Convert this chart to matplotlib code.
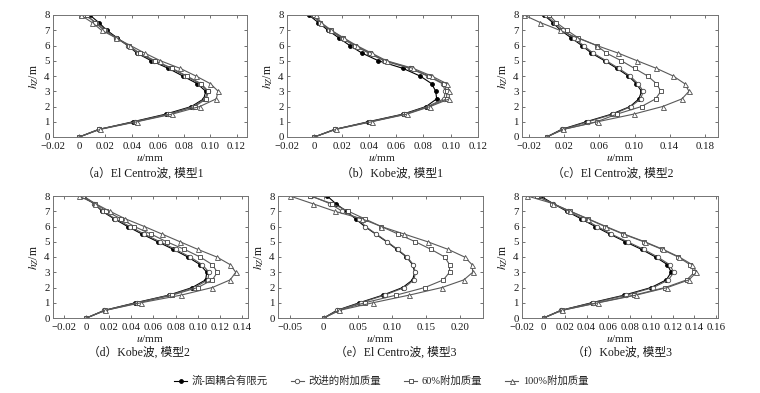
#!/usr/bin/env python3
"""
Displacement profiles u(h_Z) for three models under El Centro / Kobe waves.
Four methods compared per panel, 2x3 grid, one legend at the bottom.
"""

import matplotlib
matplotlib.use("Agg")
import matplotlib.pyplot as plt

plt.rcParams["font.family"] = ["Liberation Serif", "Noto Sans CJK SC"]
plt.rcParams["mathtext.fontset"] = "stix"
plt.rcParams["axes.unicode_minus"] = True

# heights along the wall (m)
HEIGHTS = [0, 0.5, 1, 1.5, 2, 2.5, 3, 3.5, 4, 4.5, 5, 5.5, 6, 6.5, 7, 7.5, 8]

SERIES_NAMES = ["流-固耦合有限元", "改进的附加质量", "60%附加质量", "100%附加质量"]

# (a) El Centro, model 1
a_fem = [0, 0.015, 0.041, 0.066, 0.0856, 0.095, 0.0965, 0.090, 0.079, 0.068, 0.055, 0.044, 0.037, 0.029, 0.021, 0.015, 0.008]
a_improved = [0, 0.015, 0.0425, 0.068, 0.087, 0.096, 0.098, 0.092, 0.081, 0.070, 0.057, 0.045, 0.037, 0.028, 0.020, 0.013, 0.004]
a_mass60 = [0, 0.015, 0.043, 0.069, 0.088, 0.097, 0.0985, 0.093, 0.082, 0.071, 0.058, 0.046, 0.038, 0.028, 0.019, 0.012, 0.006]
a_mass100 = [0, 0.016, 0.044, 0.071, 0.092, 0.1045, 0.106, 0.100, 0.089, 0.077, 0.062, 0.050, 0.039, 0.028, 0.017, 0.010, 0.001]

# (b) Kobe, model 1
b_fem = [0, 0.015, 0.0395, 0.065, 0.082, 0.0897, 0.089, 0.086, 0.0775, 0.065, 0.047, 0.035, 0.026, 0.018, 0.010, 0.003, -0.004]
b_improved = [0, 0.015, 0.041, 0.066, 0.083, 0.095, 0.096, 0.094, 0.083, 0.070, 0.051, 0.040, 0.029, 0.020, 0.011, 0.004, -0.001]
b_mass60 = [0, 0.015, 0.041, 0.067, 0.084, 0.097, 0.097, 0.095, 0.084, 0.071, 0.052, 0.041, 0.030, 0.021, 0.012, 0.004, 0.000]
b_mass100 = [0, 0.016, 0.042, 0.068, 0.085, 0.099, 0.099, 0.097, 0.086, 0.0725, 0.053, 0.042, 0.031, 0.0215, 0.0125, 0.005, 0.001]

# (c) El Centro, model 2
c_fem = [0, 0.017, 0.045, 0.074, 0.095, 0.105, 0.108, 0.102, 0.093, 0.080, 0.066, 0.051, 0.040, 0.028, 0.016, 0.007, -0.003]
c_improved = [0, 0.018, 0.047, 0.076, 0.096, 0.107, 0.110, 0.104, 0.095, 0.082, 0.068, 0.053, 0.042, 0.031, 0.019, 0.009, -0.001]
c_mass60 = [0, 0.019, 0.057, 0.080, 0.108, 0.124, 0.130, 0.125, 0.115, 0.100, 0.085, 0.068, 0.057, 0.036, 0.023, 0.011, 0.003]
c_mass100 = [0, 0.019, 0.058, 0.099, 0.132, 0.154, 0.162, 0.157, 0.144, 0.125, 0.103, 0.0815, 0.057, 0.035, 0.015, -0.007, -0.026]

# (d) Kobe, model 2
d_fem = [0, 0.016, 0.044, 0.074, 0.095, 0.107, 0.108, 0.102, 0.091, 0.078, 0.064, 0.050, 0.037, 0.025, 0.014, 0.007, -0.005]
d_improved = [0, 0.016, 0.045, 0.075, 0.097, 0.109, 0.110, 0.104, 0.093, 0.080, 0.066, 0.052, 0.039, 0.026, 0.015, 0.007, -0.003]
d_mass60 = [0, 0.017, 0.047, 0.077, 0.100, 0.113, 0.1175, 0.113, 0.102, 0.088, 0.072, 0.058, 0.043, 0.031, 0.018, 0.008, -0.003]
d_mass100 = [0, 0.017, 0.049, 0.085, 0.113, 0.129, 0.134, 0.129, 0.117, 0.100, 0.084, 0.068, 0.052, 0.035, 0.021, 0.008, -0.007]

# (e) El Centro, model 3
e_fem = [0, 0.019, 0.052, 0.0865, 0.1155, 0.130, 0.133, 0.130, 0.121, 0.107, 0.092, 0.076, 0.060, 0.0466, 0.033, 0.0175, 0.005]
e_improved = [0, 0.020, 0.054, 0.089, 0.118, 0.132, 0.134, 0.131, 0.122, 0.108, 0.093, 0.077, 0.061, 0.052, 0.027, 0.009, -0.018]
e_mass60 = [0, 0.022, 0.060, 0.106, 0.148, 0.175, 0.184, 0.184, 0.177, 0.157, 0.134, 0.109, 0.084, 0.060, 0.036, 0.012, -0.020]
e_mass100 = [0, 0.023, 0.072, 0.125, 0.173, 0.205, 0.218, 0.217, 0.206, 0.182, 0.152, 0.118, 0.084, 0.056, 0.016, -0.0165, -0.0495]

# (f) Kobe, model 3
f_fem = [0, 0.016, 0.0446, 0.075, 0.100, 0.114, 0.1185, 0.115, 0.104, 0.091, 0.076, 0.0615, 0.048, 0.035, 0.0215, 0.009, -0.003]
f_improved = [0, 0.016, 0.046, 0.077, 0.102, 0.116, 0.121, 0.117, 0.106, 0.093, 0.078, 0.063, 0.050, 0.037, 0.023, 0.009, -0.006]
f_mass60 = [0, 0.017, 0.050, 0.084, 0.113, 0.133, 0.140, 0.136, 0.125, 0.110, 0.093, 0.074, 0.057, 0.041, 0.025, 0.008, -0.006]
f_mass100 = [0, 0.017, 0.051, 0.086, 0.115, 0.135, 0.142, 0.138, 0.126, 0.111, 0.094, 0.075, 0.058, 0.0415, 0.0246, 0.009, -0.015]

# x ticks / labels per panel
a_xticks = [-0.02, 0, 0.02, 0.04, 0.06, 0.08, 0.10, 0.12]
a_xlabels = ["\u22120.02", "0", "0.02", "0.04", "0.06", "0.08", "0.10", "0.12"]
b_xticks = a_xticks
b_xlabels = a_xlabels
c_xticks = [-0.02, 0.02, 0.06, 0.10, 0.14, 0.18]
c_xlabels = ["\u22120.02", "0.02", "0.06", "0.10", "0.14", "0.18"]
d_xticks = [-0.02, 0, 0.02, 0.04, 0.06, 0.08, 0.10, 0.12, 0.14]
d_xlabels = ["\u22120.02", "0", "0.02", "0.04", "0.06", "0.08", "0.10", "0.12", "0.14"]
e_xticks = [-0.05, 0, 0.05, 0.10, 0.15, 0.20]
e_xlabels = ["\u22120.05", "0", "0.05", "0.10", "0.15", "0.20"]
f_xticks = [-0.02, 0, 0.02, 0.04, 0.06, 0.08, 0.10, 0.12, 0.14, 0.16]
f_xlabels = ["\u22120.02", "0", "0.02", "0.04", "0.06", "0.08", "0.10", "0.12", "0.14", "0.16"]

y_ticks = [0, 1, 2, 3, 4, 5, 6, 7, 8]

CAPTIONS = [
    "（a）El Centro波, 模型1",
    "（b）Kobe波, 模型1",
    "（c）El Centro波, 模型2",
    "（d）Kobe波, 模型2",
    "（e）El Centro波, 模型3",
    "（f）Kobe波, 模型3",
]

W, H = 760, 393


def px_rect(left, right, top, bottom):
    """pixel box -> figure fraction rect"""
    return [left / W, 1 - bottom / H, (right - left) / W, (bottom - top) / H]


# line style per method
STYLES = [
    dict(color="black", marker="o", markersize=2.8, markerfacecolor="black", markeredgecolor="black"),
    dict(color="0.35", marker="o", markersize=3.2, markerfacecolor="white", markeredgecolor="0.3"),
    dict(color="0.35", marker="s", markersize=3.0, markerfacecolor="white", markeredgecolor="0.25"),
    dict(color="0.35", marker="^", markersize=3.6, markerfacecolor="white", markeredgecolor="0.3"),
]


def draw_panel(fig, rect, series, xlim, xticks, xlabels, caption, cap_x, cap_y):
    ax = fig.add_axes(rect)
    handles = []
    for vals, st in zip(series, STYLES):
        ln, = ax.plot(vals, HEIGHTS, linewidth=0.8, markeredgewidth=0.6, **st)
        handles.append(ln)
    ax.set_xlim(*xlim)
    ax.set_ylim(0, 8)
    ax.set_xticks(xticks)
    ax.set_xticklabels(xlabels)
    ax.set_yticks(y_ticks)
    ax.tick_params(direction="in", length=2.5, width=0.6, top=True, right=True,
                   labelsize=7.8, pad=2.5, colors="0.35", labelcolor="0.1")
    ax.tick_params(axis="x", pad=3.5)
    for sp in ax.spines.values():
        sp.set_color("0.45")
        sp.set_linewidth(0.7)
    # xlabel placed by hand so the caption below keeps its room
    ax.set_xlabel(r"$u$/mm", fontsize=8.2, labelpad=0.5, color="0.1")
    ax.set_ylabel(r"$h_Z$/m", fontsize=8.5, labelpad=2, color="0.1")
    fig.text(cap_x / W, 1 - cap_y / H, caption, ha="center", va="center", fontsize=8.5,
             color="0.1")
    return handles


fig = plt.figure(figsize=(W / 100, H / 100), dpi=100)

panels = [
    ((a_fem, a_improved, a_mass60, a_mass100), px_rect(53, 247, 15, 137), (-0.02, 0.128), a_xticks, a_xlabels, 143, 174),
    ((b_fem, b_improved, b_mass60, b_mass100), px_rect(287, 478, 15, 137), (-0.02, 0.12), b_xticks, b_xlabels, 392, 174),
    ((c_fem, c_improved, c_mass60, c_mass100), px_rect(522, 718, 15, 137), (-0.028, 0.195), c_xticks, c_xlabels, 613, 174),
    ((d_fem, d_improved, d_mass60, d_mass100), px_rect(53, 248, 196, 318), (-0.03, 0.145), d_xticks, d_xlabels, 139, 353),
    ((e_fem, e_improved, e_mass60, e_mass100), px_rect(278, 483, 196, 318), (-0.067, 0.233), e_xticks, e_xlabels, 396, 353),
    ((f_fem, f_improved, f_mass60, f_mass100), px_rect(522, 718, 196, 318), (-0.02, 0.162), f_xticks, f_xlabels, 622, 353),
]

handles = None
for (series, rect, xlim, xt, xl, cx, cy), cap in zip(panels, CAPTIONS):
    handles = draw_panel(fig, rect, series, xlim, xt, xl, cap, cx, cy)

fig.legend(handles, SERIES_NAMES, loc="center", bbox_to_anchor=(381 / W, 1 - 381 / H),
           ncol=4, frameon=False, fontsize=7.5, handlelength=1.3, handletextpad=0.4,
           columnspacing=2.2, labelcolor="0.15")

fig.savefig("out.png", dpi=100)
plt.close(fig)
